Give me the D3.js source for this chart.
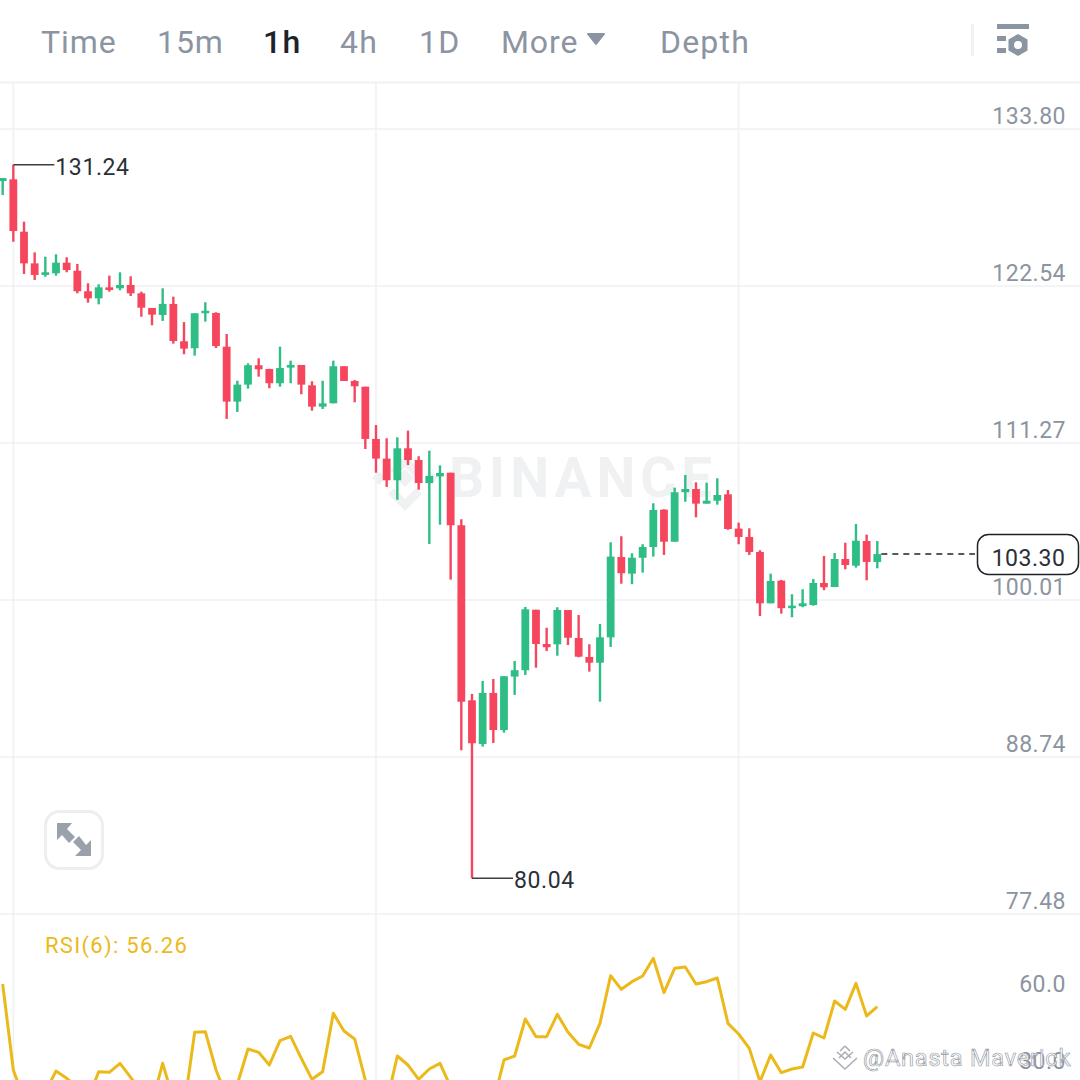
<!DOCTYPE html>
<html><head><meta charset="utf-8">
<script src="https://cdnjs.cloudflare.com/ajax/libs/d3/7.8.5/d3.min.js"></script>
<style>html,body{margin:0;padding:0;background:#fff;overflow:hidden}svg{display:block}text{font-family:Roboto,sans-serif}</style>
</head><body><svg id="c" width="1080" height="1080"></svg>
<script>
const tabs=["Time","15m","1h","4h","1D","More","Depth"];
const tabX=[41,157,263,340,419,501,660];
const priceTicks=[133.80,122.54,111.27,100.01,88.74,77.48];
const rsiTicks=[60,30];
const opens=[130.07,130.19,126.43,124.16,123.33,123.45,124.21,123.63,122.16,121.65,122.44,122.37,122.61,122.01,120.96,120.46,121.25,118.57,118.07,120.58,120.60,118.18,114.24,115.46,116.85,116.58,115.56,116.68,116.87,115.41,113.88,114.12,116.78,115.72,115.31,111.56,110.15,108.60,110.89,110.05,108.40,108.88,109.14,105.37,92.81,89.68,93.34,90.68,94.51,94.97,99.31,96.85,96.83,99.29,97.28,95.92,95.51,97.33,103.09,101.90,103.04,103.81,106.49,104.19,107.74,107.97,106.92,107.13,107.59,105.13,104.53,103.45,99.77,101.40,99.42,99.56,99.65,101.23,100.94,102.95,102.47,104.24,102.74];
const closes=[130.28,126.48,124.16,123.33,123.52,124.21,123.68,122.16,121.65,122.44,122.25,122.61,122.01,120.98,120.48,121.25,118.59,118.04,120.58,120.76,118.23,114.24,115.46,116.85,116.56,115.56,116.65,116.87,115.46,113.88,114.12,116.78,115.72,115.34,111.56,110.15,108.60,110.89,110.05,108.40,108.91,109.12,105.37,92.71,89.73,93.34,90.68,94.54,94.97,99.34,96.85,96.62,99.29,97.30,95.94,95.51,97.33,103.12,101.93,103.04,103.81,106.47,104.19,107.74,107.97,106.92,107.13,107.54,105.10,104.53,103.45,99.77,101.37,99.42,99.60,99.77,101.23,100.92,102.95,102.52,104.26,102.74,103.30];
const highs=[130.28,131.24,127.15,124.95,124.64,124.81,124.60,124.12,122.73,122.66,123.28,123.52,123.23,122.13,120.96,122.37,121.77,119.95,120.58,121.37,120.65,119.09,115.74,116.99,117.35,116.60,118.18,117.18,116.87,115.70,115.74,117.18,116.78,115.79,115.31,112.56,111.61,111.68,112.16,110.32,110.72,109.67,109.14,105.80,93.27,94.20,94.34,94.54,95.63,99.51,99.31,98.02,99.49,99.29,98.93,96.83,98.29,104.15,104.58,103.36,104.01,106.95,106.52,108.07,108.98,108.45,108.43,108.74,107.90,105.56,105.15,103.58,101.90,101.45,100.42,100.78,101.52,103.17,103.38,104.12,105.46,104.70,104.24];
const lows=[129.06,125.71,123.40,122.97,123.20,123.28,123.52,122.01,121.34,121.22,122.13,122.23,121.82,120.33,119.72,120.03,118.40,117.64,117.54,119.98,118.09,113.00,113.50,115.17,116.03,115.20,115.31,115.56,114.77,113.59,113.71,114.12,115.72,114.19,110.84,109.14,108.12,107.20,109.69,107.92,104.03,105.41,101.47,89.23,80.04,89.49,89.75,90.49,93.20,94.63,95.15,96.35,96.01,96.78,95.90,94.87,92.71,96.64,101.18,101.14,101.97,103.12,103.24,104.19,107.06,105.94,106.92,106.85,105.05,104.01,103.24,98.86,99.77,99.03,98.77,99.49,99.60,100.71,100.94,102.21,102.33,101.42,102.28];
const rsi=[65.06,31.56,20,20,23,31.17,28.31,25,20,30.9,30.65,34.16,28.7,23,18.6,34.16,20,16.5,46.23,46.49,31.56,21.2,26,39.74,38.44,33.51,42.99,44.67,36.1,27.92,30.91,53.64,46.75,43.64,27.66,18,18.8,37.01,33.51,27.92,31.95,34.16,25,12,10,15,19,35.45,37.01,51.43,44.55,44.55,53.25,46.23,41.56,40.13,49.74,68.31,62.99,65.97,68.18,75.06,61.69,71.17,71.69,65.06,65.97,67.4,49.74,45.58,40,27,37.4,30.52,31.95,32.73,45.97,44.03,58.44,55.2,65.32,52.6,56.26];
const vGridIdx=[1,35,69];
const maxPrice=131.24,minPrice=80.04,lastPrice=103.30,rsiLabel="RSI(6): 56.26",lastIdx=82;

const GRID="#f0f1f3",AX="#8b94a1",DARK="#1e2329",RED="#f6465d",GREEN="#2ebd85",YEL="#ecb91a";
const svg=d3.select("#c");
const x=d3.scaleLinear().domain([0,82]).range([2.67,877.3]);
const y=d3.scaleLinear().domain([77.48,133.80]).range([914,129]);
const yR=d3.scaleLinear().domain([30,60]).range([1074,997]);
const idx=d3.range(opens.length);

// header
svg.append("g").selectAll("text").data(tabs).join("text")
 .attr("x",(d,i)=>tabX[i]).attr("y",53).attr("font-size",32).attr("letter-spacing",d=>d==="Time"||d==="15m"||d==="More"?0.9:1.2)
 .attr("fill",d=>d==="1h"?DARK:AX).attr("font-weight",d=>d==="1h"?500:400).text(d=>d);
svg.append("path").attr("d","M588 34h16l-8 10z").attr("fill",AX).attr("stroke",AX).attr("stroke-width",2).attr("stroke-linejoin","round");
svg.append("rect").attr("x",971).attr("y",24).attr("width",3).attr("height",32).attr("fill",GRID);
const ic=svg.append("g").attr("fill",AX);
[[997,24,32,5],[997,36,9,5],[997,48,9,5]].forEach(r=>ic.append("rect").attr("x",r[0]).attr("y",r[1]).attr("width",r[2]).attr("height",r[3]));
ic.append("path").attr("d",d3.range(6).map((k,i)=>(i?"L":"M")+(1018+11*Math.sin(k*Math.PI/3))+" "+(45+11*Math.cos(k*Math.PI/3))).join("")+"Z");
ic.append("circle").attr("cx",1018).attr("cy",45).attr("r",4).attr("fill","#fff");
svg.append("line").attr("x1",0).attr("x2",1080).attr("y1",82.5).attr("y2",82.5).attr("stroke",GRID).attr("stroke-width",2);

// grid
svg.append("g").selectAll("line").data(priceTicks).join("line")
 .attr("x1",0).attr("x2",1080).attr("y1",d=>y(d)).attr("y2",d=>y(d)).attr("stroke",GRID).attr("stroke-width",1.6);
svg.append("g").selectAll("line").data(vGridIdx).join("line")
 .attr("x1",d=>x(d)).attr("x2",d=>x(d)).attr("y1",83).attr("y2",1080).attr("stroke",GRID).attr("stroke-width",1.6);

// watermark
const wm=svg.append("g").attr("fill","#f0f1f2");
wm.append("text").attr("x",449).attr("y",497).attr("font-size",55).attr("font-weight",700).attr("letter-spacing",5).text("BINANCE");
wm.append("path").attr("d","M405 455l15 15-6 6-9-9-9 9-6-6zM372 478l7-7 7 7-7 7zM396 478l9-9 9 9-9 9zM424 478l7-7 7 7-7 7zM405 511l-17-17 6-6 11 11 11-11 6 6z");

// candles
const g=svg.append("g");
g.selectAll("line").data(idx).join("line")
 .attr("x1",i=>x(i)).attr("x2",i=>x(i)).attr("y1",i=>y(highs[i])).attr("y2",i=>y(lows[i]))
 .attr("stroke",i=>closes[i]>=opens[i]?GREEN:RED).attr("stroke-width",2.4);
g.selectAll("rect").data(idx).join("rect")
 .attr("x",i=>x(i)-3.9).attr("width",7.8)
 .attr("y",i=>y(Math.max(opens[i],closes[i])))
 .attr("height",i=>Math.max(2,Math.abs(y(opens[i])-y(closes[i]))))
 .attr("fill",i=>closes[i]>=opens[i]?GREEN:RED);

// max/min labels
[[1,maxPrice],[44,minPrice]].forEach(([i,v])=>{
 svg.append("line").attr("x1",x(i)).attr("x2",x(i)+41).attr("y1",y(v)).attr("y2",y(v)).attr("stroke","#3a3f45").attr("stroke-width",1.5);
 svg.append("text").attr("x",x(i)+42).attr("y",y(v)+10).attr("font-size",23).attr("letter-spacing",.6).attr("fill","#2b3038").text(v.toFixed(2));
});

// price axis
const pa=svg.append("g").attr("transform","translate(1066,0)")
 .call(d3.axisLeft(y).tickValues(priceTicks).tickFormat(d3.format(".2f")).tickSize(0).tickPadding(0));
pa.select(".domain").remove();
pa.selectAll("text").attr("dy",-5.5).attr("font-size",23).attr("letter-spacing",.5).attr("fill",AX).style("font-family","Roboto,sans-serif");

// last price
svg.append("line").attr("x1",x(lastIdx)+4).attr("x2",975).attr("y1",y(lastPrice)).attr("y2",y(lastPrice))
 .attr("stroke",DARK).attr("stroke-width",1.5).attr("stroke-dasharray","6 5");
svg.append("rect").attr("x",977.5).attr("y",534.5).attr("width",101).attr("height",40).attr("rx",11).attr("fill","#fff").attr("stroke",DARK).attr("stroke-width",1.5);
svg.append("text").attr("x",1028.5).attr("y",566).attr("text-anchor","middle").attr("font-size",23).attr("letter-spacing",.5).attr("fill","#2b3038").text(lastPrice.toFixed(2));

// expand button
svg.append("rect").attr("x",45.5).attr("y",811.5).attr("width",57).attr("height",57).attr("rx",14).attr("fill","#fff").attr("stroke","#eceef0").attr("stroke-width",3);
svg.append("path").attr("fill","#9aa1ab").attr("d","M57 823H72L67 829L75 837L69 843L62 835L57 840ZM91 856H75L81 850L73 842L79 836L86 845L91 840Z");

// RSI
svg.append("text").attr("x",45).attr("y",953).attr("font-size",22).attr("letter-spacing",1.3).attr("fill",YEL).text(rsiLabel);
svg.append("path").datum(idx).attr("fill","none").attr("stroke",YEL).attr("stroke-width",3).attr("stroke-linejoin","round")
 .attr("d",d3.line().x(i=>x(i)).y(i=>yR(rsi[i])));
const ra=svg.append("g").attr("transform","translate(1066,0)")
 .call(d3.axisLeft(yR).tickValues(rsiTicks).tickFormat(d3.format(".1f")).tickSize(0).tickPadding(0));
ra.select(".domain").remove();
ra.selectAll("text").attr("dy",-5.5).attr("font-size",23).attr("letter-spacing",.5).attr("fill",AX).style("font-family","Roboto,sans-serif");

// author mark
svg.append("text").attr("x",863).attr("y",1066).attr("font-size",23.5).attr("letter-spacing",.8).attr("fill","#fff").attr("fill-opacity",.85).attr("stroke","#9aa0a8").attr("stroke-width",.7).text("@Anasta Maverick");
svg.append("path").attr("fill","none").attr("stroke","#a8adb4").attr("stroke-width",1.5)
 .attr("d","M833 1058l12 11 12-11M839 1058l6-6 6 6M845 1046l-5 5M845 1046l5 5M837 1052l8 7 8-7");
</script></body></html>
